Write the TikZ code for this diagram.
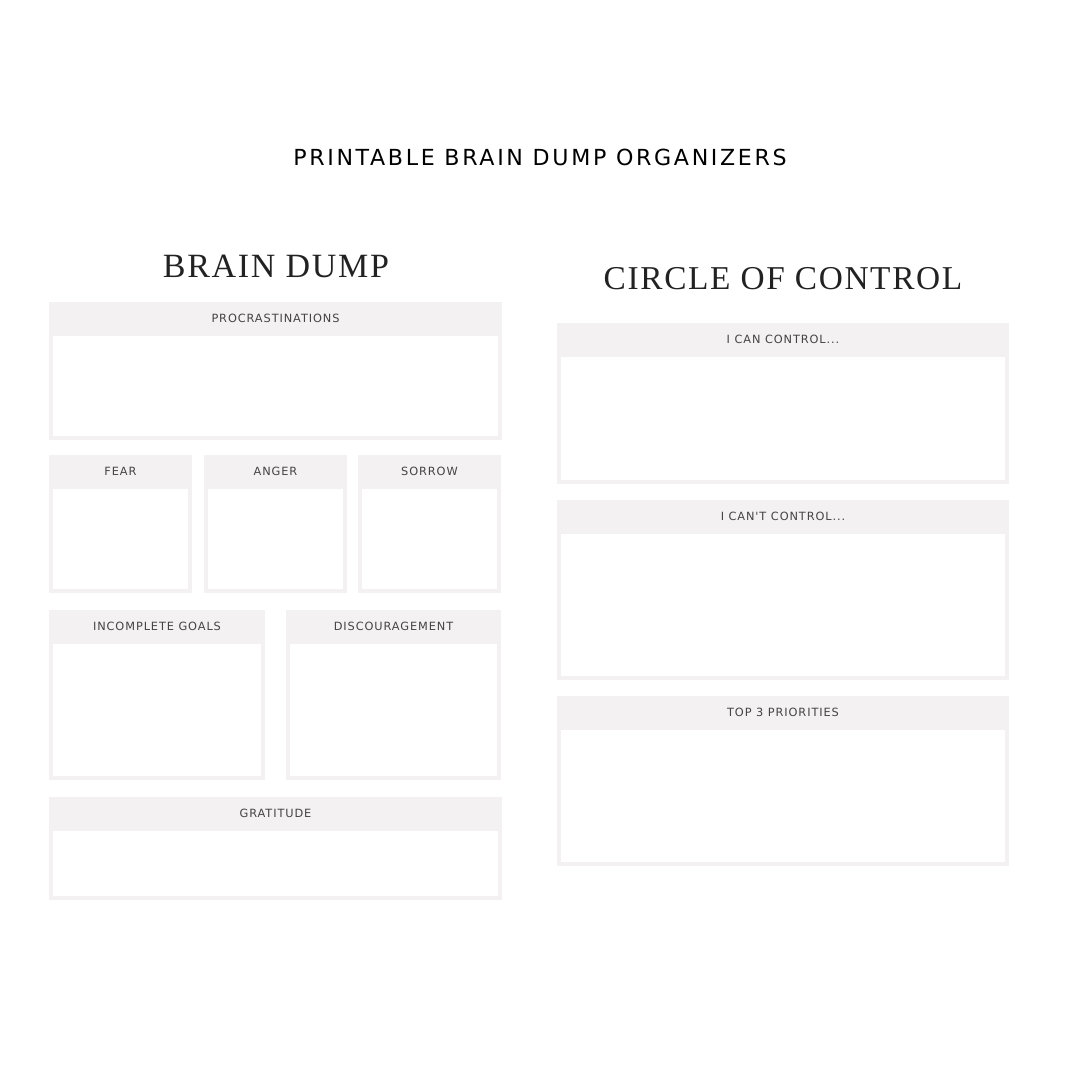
\documentclass[tikz,border=0pt]{standalone}
\usepackage{fontspec}
\setmainfont{Liberation Serif}
\newfontfamily\topfont[LetterSpace=12]{DejaVu Sans}
\newfontfamily\headfont[LetterSpace=5]{Liberation Serif}
\newfontfamily\labfont[LetterSpace=8]{DejaVu Sans}
\definecolor{band}{HTML}{F3F1F1}
\definecolor{ink}{HTML}{222222}
\definecolor{lab}{HTML}{444444}
\tikzset{lbl/.style={font=\labfont\fontsize{8.5}{10}\selectfont, text=lab, anchor=center}}
\newcommand{\bbox}[6]{% name, x1,y1,x2,y2,label
  \fill[band] (#2,#3) rectangle (#4,#5);
  \fill[white] (#2+4,#3+34) rectangle (#4-4,#5-4);
  \node[lbl] (#1) at ({(#2+#4)/2},#3+16) {#6};
}
\begin{document}
\begin{tikzpicture}[x=0.75pt,y=-0.75pt]
\useasboundingbox (0,0) rectangle (1080,1078);
\fill[white] (0,0) rectangle (1080,1078);
\node[text=black, font=\topfont\fontsize{16.6}{20}\selectfont] (t) at (540,157) {PRINTABLE BRAIN DUMP ORGANIZERS};
\node[text=ink, font=\headfont\fontsize{25.5}{30}\selectfont] (bd) at (276,266) {BRAIN DUMP};
\node[text=ink, font=\headfont\fontsize{25}{30}\selectfont] (cc) at (783,279) {CIRCLE OF CONTROL};
\bbox{p}{49}{302}{502}{440}{PROCRASTINATIONS}
\bbox{f}{49}{455}{192}{593}{FEAR}
\bbox{a}{204}{455}{347}{593}{ANGER}
\bbox{s}{358}{455}{501}{593}{SORROW}
\bbox{ig}{49}{610}{265}{780}{INCOMPLETE GOALS}
\bbox{d}{286}{610}{501}{780}{DISCOURAGEMENT}
\bbox{g}{49}{797}{502}{900}{GRATITUDE}
\bbox{c1}{557}{323}{1009}{484}{I CAN CONTROL...}
\bbox{c2}{557}{500}{1009}{680}{I CAN'T CONTROL...}
\bbox{c3}{557}{696}{1009}{866}{TOP 3 PRIORITIES}
\end{tikzpicture}
\end{document}
